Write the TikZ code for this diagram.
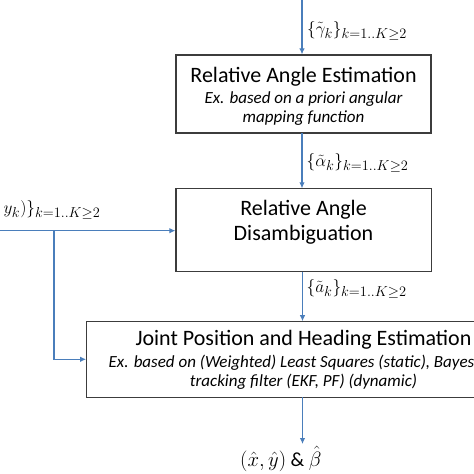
\documentclass[tikz,border=0pt]{standalone}
\usepackage{fontspec}
\setmainfont{Carlito}
\usetikzlibrary{arrows.meta}
\DeclareMathSizes{19}{19}{15.5}{12}
\definecolor{flowblue}{RGB}{74,126,187}
\definecolor{boxgray}{RGB}{60,60,60}
\begin{document}
\begin{tikzpicture}[x=1pt,y=-1pt,
  procbox/.style={draw=boxgray,line width=1.2pt,rectangle,inner sep=0pt},
  flow/.style={draw=flowblue,line width=1.1pt,-{Latex[length=6pt,width=5.5pt]}},
  title/.style={font=\fontsize{22}{26}\selectfont,anchor=base,inner sep=0pt},
  note/.style={font=\fontsize{17}{20}\selectfont\itshape,anchor=base,inner sep=0pt},
  lab/.style={font=\fontsize{19}{21}\selectfont,anchor=base west,inner sep=0pt}]
\useasboundingbox (0,0) rectangle (474,474);
\clip (0,0) rectangle (474,474);
\fill[white] (0,0) rectangle (474,474);
% boxes
\node[procbox,minimum width=255pt,minimum height=78pt] (b1) at (303.5,94) {};
\node[procbox,minimum width=255.5pt,minimum height=83.5pt] (b2) at (303.75,230) {};
\node[procbox,minimum width=432pt,minimum height=76pt] (b3) at (302.7,359.2) {};
% texts
\node[title] (t1) at (303.5,82) {Relative Angle Estimation};
\node[note] (n1a) at (303.5,103) {Ex. based on a priori angular};
\node[note] (n1b) at (303.5,122) {mapping function};
\node[title] (t2a) at (303.5,215) {Relative Angle};
\node[title] (t2b) at (303.5,240) {Disambiguation};
\node[title] (t3) at (303.5,345) {Joint Position and Heading Estimation};
\node[note,anchor=base west] (n3a) at (108.5,367.3) {Ex. based on (Weighted) Least Squares (static), Bayesian};
\node[note] (n3b) at (303.5,386.7) {tracking filter (EKF, PF) (dynamic)};
% coordinates
\coordinate (in) at (302,0);
\coordinate (left) at (0,230.7);
\coordinate (branch) at (54,230.7);
\coordinate (corner) at (54,359.3);
\coordinate (outend) at (302.5,444);
% connectors
\draw[flow] (in) -- (in |- b1.north);
\draw[flow] (302,133) -- (302,188.3);
\draw[flow] (302.5,271.7) -- (302.5,321.2);
\draw[flow] (302.5,397.2) -- (outend);
\draw[flow] (left) -- (left -| b2.west);
\draw[flow] (branch) -- (corner) -- (corner -| b3.west);
% labels
\node[lab] (l1) at (307,34) {$\{\tilde{\gamma}_k\}_{k=1..K\geq 2}$};
\node[lab] (l2) at (306.5,166) {$\{\tilde{\alpha}_k\}_{k=1..K\geq 2}$};
\node[lab] (l3) at (306.5,292.5) {$\{\tilde{a}_k\}_{k=1..K\geq 2}$};
\node[lab] (l4) at (3.5,213) {$y_k)\}_{k=1..K\geq 2}$};
\node[lab,font=\fontsize{20}{22}\selectfont] (out) at (240,466) {$(\hat{x},\hat{y})$ \& $\hat{\beta}$};
\end{tikzpicture}
\end{document}
